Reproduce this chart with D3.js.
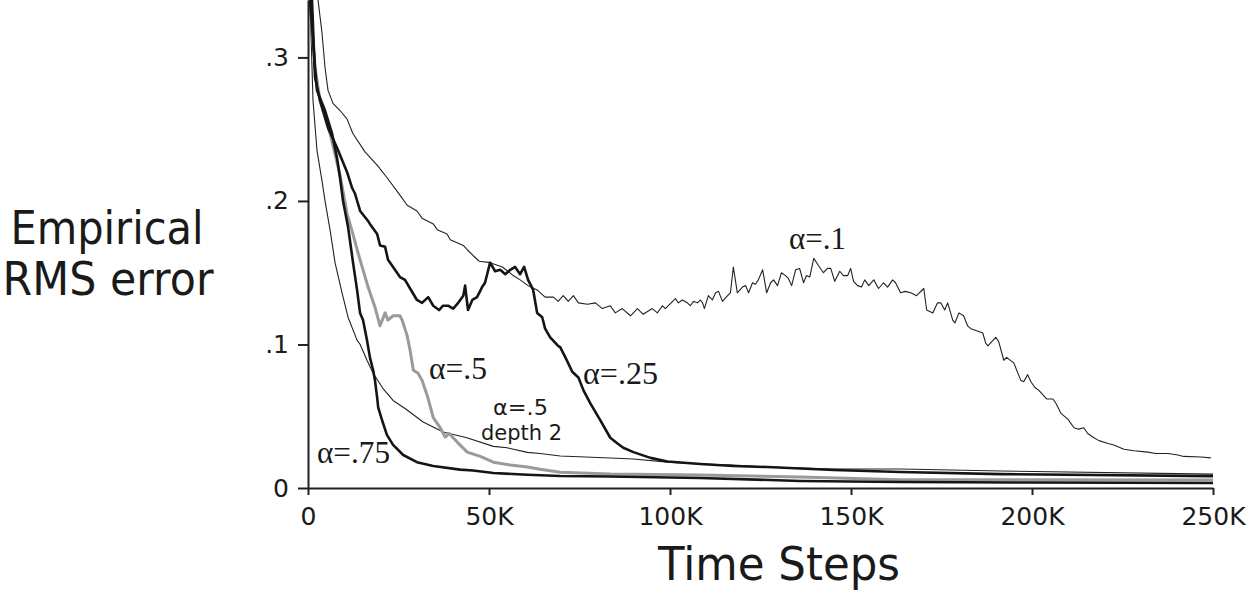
<!DOCTYPE html>
<html>
<head>
<meta charset="utf-8">
<script src="https://cdn.jsdelivr.net/npm/d3@7"></script>
<style>
body { margin: 0; background: #fff; }
svg { display: block; }
</style>
</head>
<body>
<svg id="svg" width="1249" height="593"></svg>
<script>
// time steps are in thousands (K), values are RMS error
var xTicks = [0, 50, 100, 150, 200, 250]
var xTickLabels = ['0', '50K', '100K', '150K', '200K', '250K']
var yTicks = [0, 0.1, 0.2, 0.3]
var yTickLabels = ['0', '.1', '.2', '.3']

var alpha10 = [[0, .40], [2.77, .340], [3.87, .317], [4.7, .293], [5.53, .277], [6.91, .268], [8.85, .263],
    [10.8, .257], [12.4, .247], [15.8, .234], [19.1, .225], [21.9, .216], [25.4, .204], [27.4, .197],
    [30.1, .193], [31.5, .188], [34.6, .184], [35.7, .180], [38.4, .177], [39.3, .173], [42.9, .169],
    [44.0, .166], [45.6, .162], [47.3, .158], [50.3, .157], [53.7, .154], [56.7, .148], [58.6, .145],
    [60.8, .141], [63.3, .138], [65.5, .133], [67.8, .133], [69.1, .130], [70.5, .134], [71.9, .130],
    [73.3, .134], [74.7, .129], [77.2, .128], [79.4, .129], [81.3, .125], [83.5, .127], [84.9, .122],
    [86.8, .125], [89.1, .120], [91.0, .125], [92.6, .121], [95.1, .125], [96.5, .122], [97.9, .127],
    [98.7, .125], [101.5, .132], [102.3, .129], [103.4, .131], [104.8, .129], [105.6, .127], [106.5, .130],
    [107.6, .129], [108.4, .131], [109.0, .129], [109.5, .125], [110.6, .134], [111.7, .131], [112.6, .136],
    [113.4, .137], [114.5, .130], [115.9, .134], [116.7, .136], [117.5, .154], [118.6, .136], [120.0, .140],
    [120.9, .141], [121.7, .136], [122.8, .143], [123.6, .142], [124.4, .145], [125.6, .152], [126.7, .136],
    [127.8, .143], [128.6, .145], [129.7, .141], [130.8, .150], [131.9, .148], [132.7, .146], [133.6, .141],
    [134.7, .152], [135.8, .153], [136.9, .143], [137.7, .148], [138.6, .147], [139.7, .160], [141.0, .155],
    [142.4, .150], [143.5, .153], [144.4, .153], [145.5, .144], [146.9, .151], [147.9, .148], [149.1, .148],
    [149.9, .153], [150.7, .144], [151.8, .141], [152.9, .140], [153.8, .145], [154.9, .141], [156.3, .145],
    [157.6, .139], [159.0, .143], [160.1, .140], [161.5, .145], [162.3, .143], [163.7, .136], [165.0, .137],
    [166.5, .136], [168.1, .134], [170.1, .139], [170.9, .124], [172.6, .122], [173.9, .129], [174.8, .129],
    [175.9, .124], [176.7, .129], [178.1, .117], [178.7, .115], [179.8, .122], [181.1, .120], [182.2, .113],
    [183.1, .111], [185.3, .109], [186.4, .108], [187.2, .101], [187.8, .099], [190.0, .105], [190.8, .102],
    [192.2, .089], [193.0, .091], [195.0, .087], [196.9, .075], [197.7, .074], [198.8, .079], [199.7, .074],
    [200.8, .070], [201.9, .068], [204.1, .062], [205.8, .062], [206.6, .059], [208.0, .052], [209.9, .048],
    [211.6, .042], [212.9, .041], [214.3, .042], [215.4, .038], [217.1, .035], [218.5, .033], [221.0, .031],
    [222.6, .030], [225.4, .027], [228.2, .026], [232.0, .025], [234.2, .024], [237.6, .024], [240.3, .023],
    [241.9, .022], [246.7, .0216], [249.4, .021]]

var alpha25 = [[0, .40], [1.1, .340], [1.94, .286], [3.32, .270], [5.53, .251], [8.02, .237], [10.8, .220],
    [12.2, .209], [13.0, .205], [14.4, .193], [16.6, .186], [17.1, .184], [19.1, .177], [19.9, .169],
    [21.3, .168], [22.1, .159], [23.5, .154], [25.4, .147], [26.8, .145], [28.2, .139], [30.1, .131],
    [31.5, .129], [33.2, .133], [34.6, .127], [36.2, .124], [37.3, .127], [38.7, .127], [40.1, .125],
    [41.5, .129], [42.9, .134], [43.4, .141], [44.2, .124], [45.4, .131], [46.7, .133], [48.1, .140],
    [48.9, .143], [50.3, .157], [51.7, .151], [53.1, .152], [54.5, .149], [55.9, .152], [57.2, .154],
    [58.6, .149], [59.7, .154], [60.8, .145], [62.2, .138], [63.3, .122], [64.7, .119], [65.5, .111],
    [66.9, .105], [68.9, .0995], [69.7, .098], [71.1, .091], [73.0, .081], [74.7, .077], [76.1, .068],
    [78.0, .059], [80.8, .047], [83.5, .035], [85.5, .031], [87.1, .028], [89.9, .025], [94.6, .021],
    [99.3, .0185], [108.4, .0167], [117.5, .0153], [126.9, .0146], [145.2, .0125], [163.7, .0111],
    [191.4, .0097], [250, .0083]]

var alpha50 = [[0, .40], [0.55, .340], [1.94, .293], [3.32, .270], [6.08, .247], [8.85, .218], [10.8, .191],
    [12.4, .177], [13.8, .164], [15.2, .152], [16.6, .140], [18.5, .126], [19.9, .113], [21.3, .122],
    [22.1, .117], [23.5, .120], [25.4, .120], [26.0, .117], [27.4, .106], [28.2, .096], [29.1, .082],
    [30.4, .080], [31.5, .075], [33.0, .064], [34.6, .049], [36.5, .042], [37.9, .0355], [39.0, .038],
    [41.2, .032], [44.0, .025], [47.6, .022], [51.2, .018], [55.9, .016], [60.6, .0146], [64.1, .013],
    [69.7, .011], [83.5, .0097], [108.4, .009], [136, .0077], [163.7, .0058], [250, .0056]]

var alpha50depth2 = [[0, .40], [0.55, .340], [1.38, .270], [2.49, .235], [3.87, .214], [4.7, .200],
    [6.08, .180], [7.47, .157], [9.4, .136], [11.06, .119], [13.55, .103], [14.4, .100], [16.3, .089],
    [18.0, .080], [20.8, .069], [23.5, .061], [27.0, .055], [31.8, .046], [34.6, .0425], [37.3, .039],
    [43.9, .035], [51.2, .0290], [55, .0280], [60.6, .0248], [64.1, .0240], [69.7, .0223], [83.5, .0209],
    [89.9, .0202], [99.3, .0180], [108.4, .0167], [117.5, .0160], [126.9, .0146], [145.2, .0132],
    [163.7, .0132], [191.4, .0118], [250, .0097]]

var alpha75 = [[0, .40], [0.55, .340], [1.94, .293], [2.49, .277], [4.7, .263], [6.64, .247], [8.02, .230],
    [8.85, .216], [9.68, .200], [11.06, .182], [12.44, .157], [13.55, .138], [14.38, .122], [15.2, .117],
    [16.3, .103], [17.1, .091], [18.0, .082], [18.5, .075], [19.1, .063], [19.4, .056], [20.5, .047],
    [21.8, .037], [23.5, .030], [26.3, .023], [30.1, .018], [34.6, .0153], [42, .0128], [45.6, .0122],
    [51.2, .0104], [60.6, .0092], [69.7, .0084], [83.5, .0080], [108.4, .0070], [136, .0049],
    [163.7, .0042], [200, .0038], [250, .0035]]

var series = [
    { values: alpha10, color: '#222', width: 1.1 },
    { values: alpha50depth2, color: '#222', width: 1.1 },
    { values: alpha50, color: '#9a9a9a', width: 3 },
    { values: alpha25, color: '#151515', width: 2.6 },
    { values: alpha75, color: '#151515', width: 2.6 }
]

var svg = d3.select('#svg')

var x = d3.scaleLinear().domain([0, 250]).range([308, 1213])
var y = d3.scaleLinear().domain([0, 0.34]).range([488, 0])

svg.append('clipPath').attr('id', 'plot')
    .append('rect')
    .attr('x', 308).attr('y', 0)
    .attr('width', 908).attr('height', 490)

var line = d3.line()
    .x(function(d) { return x(d[0]) })
    .y(function(d) { return y(d[1]) })

svg.append('g')
    .attr('clip-path', 'url(#plot)')
    .selectAll('path')
    .data(series)
    .enter()
    .append('path')
    .attr('d', function(d) { return line(d.values) })
    .attr('fill', 'none')
    .attr('stroke', function(d) { return d.color })
    .attr('stroke-width', function(d) { return d.width })
    .attr('stroke-linejoin', 'round')

// axes
var yAxis = d3.axisLeft(y)
    .tickValues(yTicks)
    .tickFormat(function(d, i) { return yTickLabels[i] })
    .tickSize(10)
    .tickSizeOuter(0)
    .tickPadding(9)

var xAxis = d3.axisBottom(x)
    .tickValues(xTicks)
    .tickFormat(function(d, i) { return xTickLabels[i] })
    .tickSize(7)
    .tickSizeOuter(0)
    .tickPadding(12)

var gy = svg.append('g').attr('transform', 'translate(308,0)').call(yAxis)
var gx = svg.append('g').attr('transform', 'translate(0,488)').call(xAxis)

;[gx, gy].forEach(function(g) {
    g.selectAll('path, line').attr('stroke', '#222').attr('stroke-width', 2)
    g.selectAll('text')
        .attr('fill', '#1a1a1a')
        .style('font-family', '"DejaVu Sans", Verdana, sans-serif')
        .style('font-size', '25px')
})

// axis titles
function title(text, cx, by, size, len) {
    svg.append('text')
        .attr('x', cx).attr('y', by)
        .attr('text-anchor', 'middle')
        .attr('textLength', len)
        .attr('lengthAdjust', 'spacingAndGlyphs')
        .attr('fill', '#1a1a1a')
        .style('font-family', '"DejaVu Sans", sans-serif')
        .style('font-size', size + 'px')
        .text(text)
}

title('Empirical', 107, 244, 47, 193)
title('RMS error', 108, 295, 47, 211)
title('Time Steps', 779, 580, 47, 242)

// curve labels
var labels = [
    { text: 'α=.1', x: 789, y: 249, len: 57, serif: true, size: 32 },
    { text: 'α=.25', x: 583, y: 384, len: 75, serif: true, size: 32 },
    { text: 'α=.5', x: 429, y: 379, len: 58, serif: true, size: 32 },
    { text: 'α=.75', x: 317, y: 463, len: 73, serif: true, size: 32 },
    { text: 'α=.5', x: 493, y: 415, len: 55, serif: false, size: 21 },
    { text: 'depth 2', x: 481, y: 440, len: 81, serif: false, size: 21 }
]

svg.selectAll('text.curve')
    .data(labels)
    .enter()
    .append('text')
    .attr('class', 'curve')
    .attr('x', function(d) { return d.x })
    .attr('y', function(d) { return d.y })
    .attr('textLength', function(d) { return d.len })
    .attr('lengthAdjust', 'spacingAndGlyphs')
    .attr('fill', '#1a1a1a')
    .style('font-family', function(d) {
        return d.serif ? '"Liberation Serif", "Times New Roman", serif' : '"DejaVu Sans", sans-serif'
    })
    .style('font-size', function(d) { return d.size + 'px' })
    .text(function(d) { return d.text })
</script>
</body>
</html>
